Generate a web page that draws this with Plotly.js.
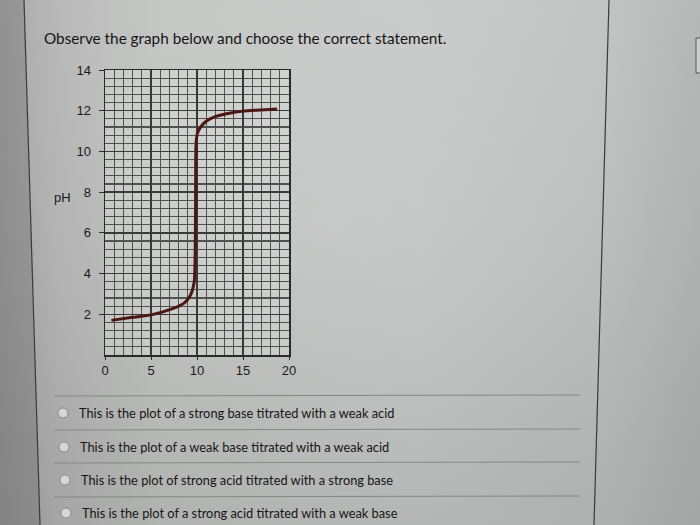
<!DOCTYPE html>
<html>
<head>
<meta charset="utf-8">
<script src="https://cdn.plot.ly/plotly-3.0.1.min.js"></script>
<style>
html,body{margin:0;padding:0;width:700px;height:525px;overflow:hidden;}
body{background:
 radial-gradient(ellipse 420px 330px at 330px 220px, rgba(255,255,255,0.14), rgba(255,255,255,0) 100%),
 linear-gradient(to bottom, rgba(255,255,255,0.04), rgba(0,0,0,0.09)),
 linear-gradient(to right, #a3a4a3 0px, #b5b6b5 60px, #c2c4c2 160px, #c6c8c7 420px, #bfc2c0 600px, #b3b6b4 700px);}
#chart{width:700px;height:525px;}
</style>
</head>
<body>
<div id="chart"></div>
<script>
// Data
var volumeAdded = [0.7, 3, 5, 7.2, 8.6, 9.3, 9.7, 9.8, 9.85, 9.9, 10.05, 10.4, 11.0, 11.9, 13.5, 15, 17, 18.7];
var pHValues    = [1.7, 1.85, 1.97, 2.25, 2.55, 2.95, 3.6, 5.0, 7.5, 10.4, 10.9, 11.2, 11.48, 11.7, 11.88, 11.98, 12.04, 12.08];
var xTickVals = [0, 5, 10, 15, 20];
var yTickVals = [2, 4, 6, 8, 10, 12, 14];
var yAxisLabel = "pH";
var questionText = "Observe the graph below and choose the correct statement.";
var optionTexts = [
  "This is the plot of a strong base titrated with a weak acid",
  "This is the plot of a weak base titrated with a weak acid",
  "This is the plot of strong acid titrated with a strong base",
  "This is the plot of a strong acid titrated with a weak base"
];

// pixel -> paper helpers (plot area: x 105..289, y 70..355)
var L = 105, R = 289, T = 70, B = 355;
function px(x){ return (x - L) / (R - L); }
function py(y){ return 1 - (y - T) / (B - T); }

var shapes = [];
shapes.push({type:'path', xref:'paper', yref:'paper',
  path:'M '+px(0)+','+py(0)+' L '+px(24)+','+py(0)+' L '+px(40)+','+py(525)+' L '+px(0)+','+py(525)+' Z',
  fillcolor:'rgba(60,60,60,0.2)', line:{width:0}, layer:'below'});
shapes.push({type:'line', xref:'paper', yref:'paper', x0:px(24), y0:py(0), x1:px(40), y1:py(525), line:{color:'#3a3a3a', width:1.2}});
shapes.push({type:'line', xref:'paper', yref:'paper', x0:px(609), y0:py(0), x1:px(594), y1:py(525), line:{color:'#3a3a3a', width:1.2}});
shapes.push({type:'rect', xref:'paper', yref:'paper', x0:px(696), y0:py(38), x1:px(704), y1:py(73), line:{color:'#555', width:1}, fillcolor:'rgba(220,222,220,0.6)'});
var sepY = [396, 430, 463, 497];
sepY.forEach(function(y){
  shapes.push({type:'line', xref:'paper', yref:'paper', x0:px(54), y0:py(y), x1:px(580), y1:py(y-1), line:{color:'#858785', width:1}});
});
var optY = [413, 447, 480, 513];
var optX = [63, 64, 65, 66];
optY.forEach(function(y, i){
  var r = 5;
  shapes.push({type:'circle', xref:'paper', yref:'paper', x0:px(optX[i]-r), x1:px(optX[i]+r), y0:py(y+r), y1:py(y-r),
    line:{color:'#8a8a8a', width:1}, fillcolor:'#d6d8d6'});
});

var annotations = [];
annotations.push({xref:'paper', yref:'paper', x:px(42), y:py(38), xanchor:'left', yanchor:'middle', showarrow:false,
  text:questionText, font:{family:'Lato, sans-serif', size:15.3, color:'#151515'}});
annotations.push({xref:'paper', yref:'paper', x:px(62), y:py(197), xanchor:'center', yanchor:'middle', showarrow:false,
  text:yAxisLabel, font:{family:'Liberation Sans, Arial, sans-serif', size:13, color:'#1a1a1a'}});
optionTexts.forEach(function(t, i){
  annotations.push({xref:'paper', yref:'paper', x:px(optX[i]+14), y:py(optY[i]), xanchor:'left', yanchor:'middle', showarrow:false,
    text:t, font:{family:'Lato, sans-serif', size:12.8, color:'#151515'}});
});

var trace = {
  x: volumeAdded, y: pHValues, type:'scatter', mode:'lines',
  line:{color:'#4a1712', width:3, shape:'spline', smoothing:0.6},
  hoverinfo:'skip'
};

var axisFont = {family:'Liberation Sans, Arial, sans-serif', size:13, color:'#1a1a1a'};
var layout = {
  width:700, height:525, autosize:false,
  margin:{l:L, r:700-R, t:T, b:525-B, pad:0},
  paper_bgcolor:'rgba(0,0,0,0)', plot_bgcolor:'rgba(220,222,220,0.4)',
  showlegend:false,
  xaxis:{range:[0,20], tickmode:'array', tickvals:xTickVals, ticktext:xTickVals.map(String),
    showgrid:true, gridcolor:'#3a3a3a', gridwidth:1.4,
    minor:{dtick:1, showgrid:true, gridcolor:'#505150', gridwidth:1.25},
    showline:true, linecolor:'#2a2a2a', linewidth:1.5, mirror:true,
    ticks:'outside', ticklen:3, tickcolor:'#2a2a2a', zeroline:false, tickfont:axisFont, fixedrange:true},
  yaxis:{range:[0,14], tickmode:'array', tickvals:yTickVals, ticktext:yTickVals.map(String),
    showgrid:true, gridcolor:'#3a3a3a', gridwidth:1.4,
    minor:{dtick:0.4, tick0:0, showgrid:true, gridcolor:'#505150', gridwidth:1.25},
    showline:true, linecolor:'#2a2a2a', linewidth:1.5, mirror:true,
    ticks:'outside', ticklen:5, tickcolor:'#2a2a2a', ticklabelstandoff:5, zeroline:false, tickfont:axisFont, fixedrange:true},
  shapes:shapes, annotations:annotations
};

Plotly.newPlot('chart', [trace], layout, {staticPlot:true, displayModeBar:false});
</script>
</body>
</html>
